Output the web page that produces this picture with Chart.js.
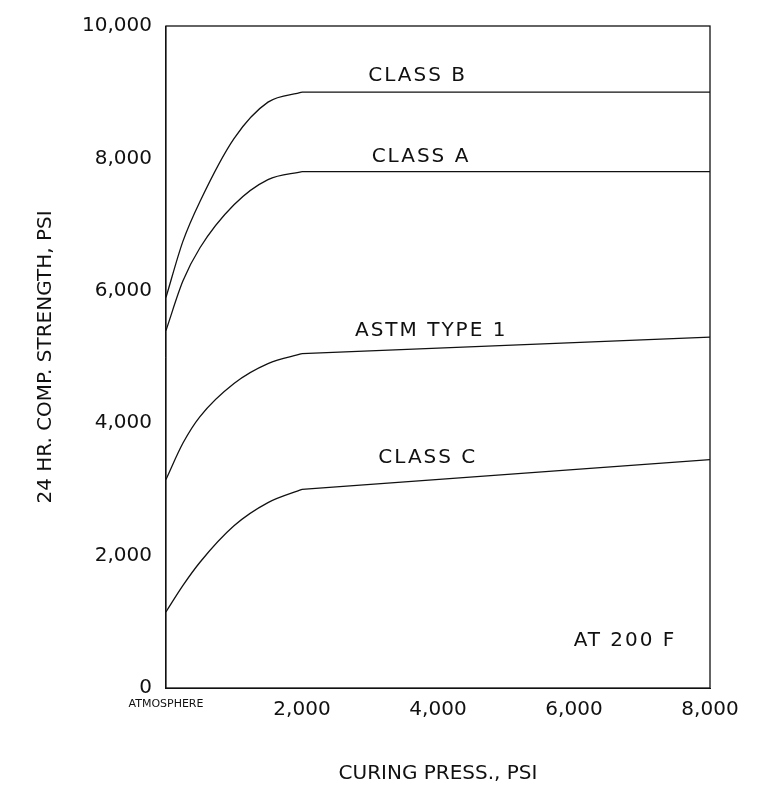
<!DOCTYPE html>
<html><head>
<script src="https://cdn.jsdelivr.net/npm/chart.js@4"></script>
<style>html,body{margin:0;background:#fff}#wrap{width:768px;height:791px}</style>
</head><body><div id="wrap"><canvas id="c"></canvas></div>
<script>
// curved rise up to 2000 psi, then straight to 8000 psi
const pressures = [0, 250, 500, 1000, 1500, 2000];
const tailPressures = [2000, 8000];
const classB = [5900, 6750, 7350, 8300, 8850, 9000];
const classA = [5400, 6150, 6650, 7300, 7680, 7800];
const astm1 = [3150, 3700, 4100, 4600, 4900, 5050];
const classC = [1150, 1550, 1900, 2450, 2800, 3000];
const classBTail = [9000, 9000];
const classATail = [7800, 7800];
const astm1Tail = [5050, 5300];
const classCTail = [3000, 3450];
const xTicks = [0, 2000, 4000, 6000, 8000];
const yTicks = [0, 2000, 4000, 6000, 8000, 10000];
const labels = [
  { text: "CLASS B", x: 3700, y: 9250 },
  { text: "CLASS A", x: 3750, y: 8030 },
  { text: "ASTM TYPE 1", x: 3900, y: 5390 },
  { text: "CLASS C", x: 3850, y: 3480 },
  { text: "AT 200 F", x: 6750, y: 720 }
];

const FONT = "DejaVu Sans";
const mk = (xs, d, curved) => ({
  data: xs.map((p, i) => ({ x: p, y: d[i] })),
  borderColor: "#111", borderWidth: 1.3, pointRadius: 0,
  cubicInterpolationMode: curved ? "monotone" : "default", tension: 0, fill: false
});

const overlay = {
  id: "overlay",
  afterDraw(chart) {
    const { ctx, chartArea: a, scales: { x, y } } = chart;
    ctx.save();
    ctx.strokeStyle = "#111"; ctx.lineWidth = 1.3;
    ctx.strokeRect(a.left, a.top, a.right - a.left, a.bottom - a.top);
    ctx.fillStyle = "#111"; ctx.font = "20px " + FONT;
    ctx.textAlign = "center"; ctx.textBaseline = "middle";
    ctx.letterSpacing = "2px";
    labels.forEach(l => ctx.fillText(l.text, x.getPixelForValue(l.x), y.getPixelForValue(l.y)));
    ctx.restore();
  }
};

new Chart(document.getElementById("c"), {
  type: "line",
  data: { datasets: [
    mk(pressures, classB, true), mk(pressures, classA, true),
    mk(pressures, astm1, true), mk(pressures, classC, true),
    mk(tailPressures, classBTail), mk(tailPressures, classATail),
    mk(tailPressures, astm1Tail), mk(tailPressures, classCTail)
  ] },
  plugins: [overlay],
  options: {
    responsive: true, maintainAspectRatio: false, animation: false,
    layout: { padding: { top: 11, right: 58, bottom: 1, left: 30 } },
    plugins: { legend: { display: false }, tooltip: { enabled: false } },
    scales: {
      x: {
        type: "linear", min: 0, max: 8000,
        afterBuildTicks: s => { s.ticks = xTicks.map(v => ({ value: v })); },
        grid: { display: false, drawTicks: false },
        border: { color: "#111" },
        ticks: {
          color: "#111", padding: 10,
          font: ctx => ({ family: FONT, size: ctx.tick && ctx.tick.value === 0 ? 11 : 20 }),
          callback: v => v === 0 ? "ATMOSPHERE" : v.toLocaleString("en-US")
        },
        title: { display: true, text: "CURING PRESS., PSI", color: "#111",
          font: { family: FONT, size: 20 }, padding: { top: 30 } }
      },
      y: {
        min: 0, max: 10000,
        afterBuildTicks: s => { s.ticks = yTicks.map(v => ({ value: v })); },
        grid: { display: false, drawTicks: false },
        border: { color: "#111" },
        ticks: { color: "#111", padding: 14, font: { family: FONT, size: 20 },
          callback: v => v.toLocaleString("en-US") },
        title: { display: true, text: "24 HR. COMP. STRENGTH, PSI", color: "#111",
          font: { family: FONT, size: 20 }, padding: { bottom: 10 } }
      }
    }
  }
});
</script></body></html>
